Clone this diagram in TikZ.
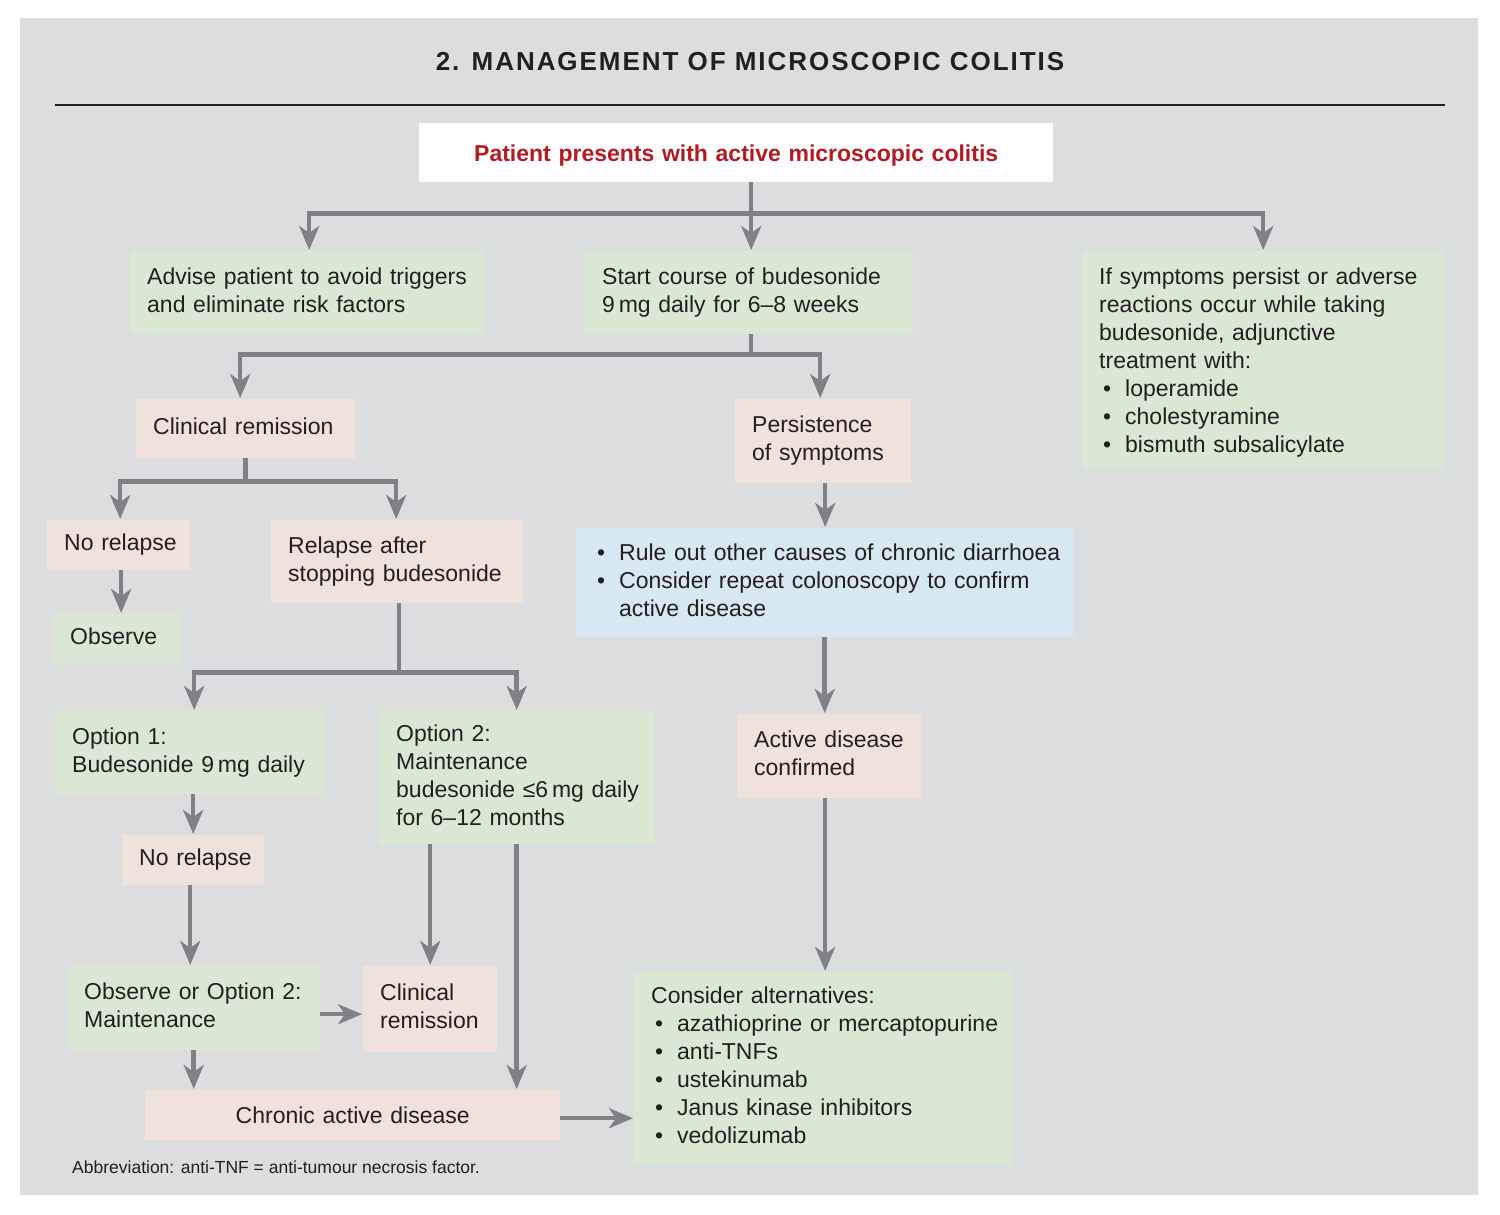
\documentclass[tikz,border=0pt]{standalone}
\usepackage{fontspec}
\setmainfont{Liberation Sans}
\newfontfamily\titlefont{Liberation Sans}[LetterSpace=7.5]
\usetikzlibrary{arrows.meta}
\definecolor{panel}{RGB}{220,221,223}
\definecolor{gbox}{RGB}{218,232,211}
\definecolor{pbox}{RGB}{240,225,221}
\definecolor{bbox}{RGB}{214,232,242}
\definecolor{agrey}{RGB}{128,129,132}
\definecolor{txt}{RGB}{35,31,32}
\definecolor{redone}{RGB}{177,27,36}
\tikzset{
 boxbase/.style={inner xsep=17pt, inner ysep=0pt, align=left, text=txt, font=\fontsize{23}{28}\selectfont},
 gb/.style={boxbase, fill=gbox},
 pb/.style={boxbase, fill=pbox},
 bb/.style={boxbase, fill=bbox},
 arr/.style={draw=agrey, line width=4.5pt, line join=miter, -{Stealth[length=24pt,width=20pt,inset=7pt]}, shorten >=1pt}
}
\newcommand\flowbox[7]{%
 \pgfmathsetmacro\bw{#4-#2}\pgfmathsetmacro\bh{#5-#3}\pgfmathsetmacro\tw{#4-#2-34}%
 \node[#6, anchor=north west, minimum width=\bw pt, minimum height=\bh pt, text width=\tw pt] (#1) at (#2,#3) {#7};}
\newcommand\lines[1]{\begin{tabular}{@{}l@{}}#1\end{tabular}}
\newcommand\bitem[1]{\hspace*{4pt}\makebox[22pt][l]{\textbullet}#1}
\begin{document}
\begin{tikzpicture}[x=1pt,y=-1pt]
\useasboundingbox (0,0) rectangle (1500,1215);
\fill[white] (0,0) rectangle (1500,1215);
\fill[panel] (20,18) rectangle (1478,1195);
\node[font=\titlefont\bfseries\fontsize{26}{30}\selectfont, text=txt] (title) at (750,62) {2. MANAGEMENT OF MICROSCOPIC COLITIS};
\draw[line width=1.5pt, txt] (55,105) -- (1445,105);

\flowbox{top}{419}{123}{1053}{182}{boxbase, fill=white, align=center, text=redone, font=\bfseries\fontsize{23}{28}\selectfont}{\raisebox{-3pt}[\height][\depth]{Patient presents with active microscopic colitis}}
\flowbox{A}{130}{251}{484}{334}{gb}{\lines{Advise patient to avoid triggers\\and eliminate risk factors}}
\flowbox{B}{585}{251}{913}{334}{gb}{\lines{Start course of budesonide\\9\,mg daily for 6–8 weeks}}
\flowbox{C}{1082}{251}{1444}{469}{gb}{\raisebox{-3pt}[\height][\depth]{\lines{If symptoms persist or adverse\\reactions occur while taking\\budesonide, adjunctive\\treatment with:\\\bitem{loperamide}\\\bitem{cholestyramine}\\\bitem{bismuth subsalicylate}}}}
\flowbox{D}{136}{399}{355}{458}{pb}{\lines{Clinical remission}}
\flowbox{E}{735}{399}{911}{483}{pb}{\lines{Persistence\\of symptoms}}
\flowbox{F}{47}{520}{190}{570}{pb}{\lines{No relapse}}
\flowbox{G}{271}{520}{523}{603}{pb}{\lines{Relapse after\\stopping budesonide}}
\flowbox{H}{53}{614}{180}{664}{gb}{\lines{Observe}}
\flowbox{I}{576}{528}{1073}{637}{bb}{\lines{\bitem{Rule out other causes of chronic diarrhoea}\\\bitem{Consider repeat colonoscopy to confirm}\\\hspace*{26pt}active disease}}
\flowbox{J}{55}{711}{324}{794}{gb}{\lines{Option 1:\\Budesonide 9\,mg daily}}
\flowbox{K}{379}{711}{654}{844}{gb}{\lines{Option 2:\\Maintenance\\budesonide ≤6\,mg daily\\for 6–12 months}}
\flowbox{L}{737}{714}{922}{798}{pb}{\lines{Active disease\\confirmed}}
\flowbox{M}{122}{835}{264}{885}{pb}{\lines{No relapse}}
\flowbox{N}{67}{966}{320}{1050}{gb}{\lines{Observe or Option 2:\\Maintenance}}
\flowbox{O}{363}{966}{497}{1052}{pb}{\lines{Clinical\\remission}}
\flowbox{P}{145}{1090}{560}{1140}{pb, align=center}{Chronic active disease}
\flowbox{Q}{634}{972}{1012}{1164}{gb}{\lines{Consider alternatives:\\\bitem{azathioprine or mercaptopurine}\\\bitem{anti-TNFs}\\\bitem{ustekinumab}\\\bitem{Janus kinase inhibitors}\\\bitem{vedolizumab}}}
\node[anchor=west, text=txt, font=\fontsize{17.5}{20}\selectfont, inner sep=0pt] (abbr) at (72,1167) {Abbreviation: anti-TNF = anti-tumour necrosis factor.};

% connectors
\draw[arr] ([xshift=15pt]top.south) -- ++(0,31) -| ([xshift=2pt]A.north);
\draw[arr] ([xshift=15pt]top.south) -- ++(0,31) -| (C.north);
\draw[arr] ([xshift=15pt]top.south) -- ([xshift=2pt]B.north);
\draw[arr] ([xshift=2pt]B.south) -- ++(0,20) -| ([xshift=-5.5pt]D.north);
\draw[arr] ([xshift=2pt]B.south) -- ++(0,20) -| ([xshift=-3pt]E.north);
\draw[arr] (D.south) -- ++(0,23) -| ([xshift=1.5pt]F.north);
\draw[arr] (D.south) -- ++(0,23) -| ([xshift=-1pt]G.north);
\draw[arr] ([xshift=2.5pt]F.south) -- ([xshift=2.5pt]F.south |- H.north);
\draw[arr] ([xshift=2pt]G.south) -- ++(0,69) -| ([xshift=4.5pt]J.north);
\draw[arr] ([xshift=2pt]G.south) -- ++(0,69) -| (K.north);
\draw[arr] ([xshift=2pt]E.south) -- ([xshift=2pt]E.south |- I.north);
\draw[arr] (I.south) -- (I.south |- L.north);
\draw[arr] ([xshift=-4.5pt]L.south) -- ([xshift=-4.5pt]L.south |- Q.north);
\draw[arr] ([xshift=3.5pt]J.south) -- ([xshift=3.5pt]J.south |- M.north);
\draw[arr] ([xshift=-3pt]M.south) -- ([xshift=-3pt]M.south |- N.north);
\draw[arr] ([xshift=-86.5pt]K.south) -- ([xshift=-86.5pt]K.south |- O.north);
\draw[arr] (K.south) -- (K.south |- P.north);
\draw[arr] ([yshift=-6pt]N.east) -- ([yshift=-6pt]N.east -| O.west);
\draw[arr] (N.south) -- (N.south |- P.north);
\draw[arr] ([yshift=-3pt]P.east) -- ([yshift=-3pt]P.east -| Q.west);
\end{tikzpicture}
\end{document}
